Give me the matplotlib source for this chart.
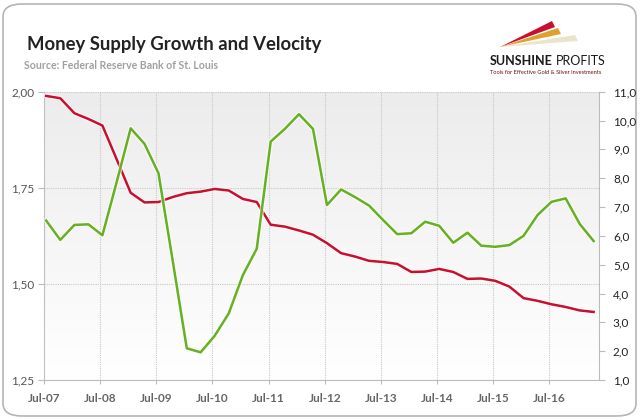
import matplotlib
matplotlib.use("Agg")
import matplotlib.pyplot as plt
import matplotlib.dates as mdates
import matplotlib.patheffects as pe
from matplotlib.patches import FancyBboxPatch, Polygon
import numpy as np
import pandas as pd

# quarterly observations, Q3 2007 .. Q2 2017
start = pd.Timestamp("2007-07-15")
dates = [start + pd.DateOffset(months=3 * i) for i in range(40)]

# M2 velocity (left axis)
velocity = [1.989, 1.983, 1.944, 1.929, 1.912, 1.825, 1.737, 1.712, 1.713, 1.726,
            1.736, 1.740, 1.747, 1.743, 1.721, 1.713, 1.654, 1.649, 1.639, 1.628,
            1.606, 1.580, 1.571, 1.560, 1.557, 1.552, 1.531, 1.532, 1.539, 1.531,
            1.513, 1.514, 1.508, 1.493, 1.463, 1.456, 1.447, 1.440, 1.431, 1.427]

# M2 growth, % y/y (right axis)
growth = [6.53, 5.86, 6.38, 6.40, 6.02, 7.85, 9.73, 9.19, 8.17, 5.15,
          2.10, 1.96, 2.53, 3.31, 4.64, 5.55, 9.27, 9.71, 10.22, 9.71,
          7.07, 7.61, 7.34, 7.05, 6.55, 6.06, 6.09, 6.49, 6.35, 5.76,
          6.11, 5.66, 5.62, 5.68, 6.00, 6.72, 7.18, 7.30, 6.41, 5.82]

left_ticks = [1.25, 1.50, 1.75, 2.00]
right_ticks = [1.0, 2.0, 3.0, 4.0, 5.0, 6.0, 7.0, 8.0, 9.0, 10.0, 11.0]
year_ticks = [pd.Timestamp(f"{y}-07-01") for y in range(2007, 2017)]

RED = "#C8102E"
GREEN = "#66B021"
GRAY = "#666666"
FONT = "Lato"

fig = plt.figure(figsize=(6.4, 4.2), dpi=100, facecolor="white")

# rounded frame
frame = FancyBboxPatch((3 / 640, 4 / 420), 633 / 640, 412 / 420,
                       boxstyle="round,pad=0,rounding_size=0.03",
                       transform=fig.transFigure, facecolor="none",
                       edgecolor="#b5b5b5", linewidth=1.2, zorder=-1)
fig.patches.append(frame)

ax = fig.add_axes([44 / 640, 1 - 380 / 420, 555 / 640, (380 - 91.7) / 420])
ax.set_facecolor("none")
ax2 = ax.twinx()

# gradient background
xlim = (mdates.date2num(pd.Timestamp("2007-07-01")), mdates.date2num(pd.Timestamp("2017-05-20")))
grad = np.linspace(0, 1, 256).reshape(-1, 1)
ax.imshow(grad, cmap=matplotlib.colors.LinearSegmentedColormap.from_list("g", ["#ececec", "#ffffff"]),
          extent=(xlim[0], xlim[1], 1.25, 2.00), aspect="auto", zorder=0, origin="upper")

halo = [pe.Stroke(linewidth=3.4, foreground="white", alpha=0.7), pe.Normal()]
ax.plot(dates, velocity, color=RED, linewidth=1.8, zorder=3, path_effects=halo)
ax2.plot(dates, growth, color=GREEN, linewidth=1.8, zorder=3, path_effects=halo)

ax.set_xlim(*xlim)
ax.set_ylim(1.25, 2.00)
ax2.set_ylim(1.0, 11.0)

ax.set_xticks(year_ticks)
ax.xaxis.set_major_formatter(mdates.DateFormatter("%b-%y"))
ax.set_yticks(left_ticks)
ax.set_yticklabels([f"{v:.2f}".replace(".", ",") for v in left_ticks])
ax2.set_yticks(right_ticks)
ax2.set_yticklabels([f"{v:.1f}".replace(".", ",") for v in right_ticks])

ax.grid(True, color="#c8c8c8", linestyle=(0, (1, 1)), linewidth=0.8)
ax.set_axisbelow(False)
for a in (ax, ax2):
    a.spines["top"].set_visible(False)
ax2.spines["left"].set_visible(False)
ax2.spines["bottom"].set_visible(False)
for sp in ["left", "bottom"]:
    ax.spines[sp].set_color("#bbbbbb")
ax.spines["right"].set_visible(False)
ax2.spines["right"].set_color("#bbbbbb")

ax.tick_params(axis="y", colors="#bbbbbb", labelcolor="#555555", labelsize=8.5, length=4, pad=3)
ax.tick_params(axis="x", colors="#bbbbbb", labelcolor=GRAY, labelsize=8.5, length=3, pad=6)
ax2.tick_params(axis="y", colors="#bbbbbb", labelcolor="#222222", labelsize=8.5, length=4, pad=6)
for lab in ax.get_xticklabels() + ax.get_yticklabels() + ax2.get_yticklabels():
    lab.set_fontfamily(FONT)
for lab in ax.get_xticklabels():
    lab.set_fontweight("bold")

# titles
fig.text(27 / 640, 1 - 50 / 420, "Money Supply Growth and Velocity", fontsize=13.3,
         fontweight="bold", color="#222222", family=FONT)
fig.text(24 / 640, 1 - 69 / 420, "Source: Federal Reserve Bank of St. Louis", fontsize=7.6,
         fontweight="bold", color="#a0a0a0", family=FONT)

# logo
px = lambda x, y: (x / 640, 1 - y / 420)
for pts, col in [([(500, 47), (552, 21), (555, 27)], "#c8102e"),
                 ([(500, 47), (558, 28), (561, 34)], "#e0a030"),
                 ([(500, 47), (575, 35), (578, 41)], "#ebe4cc")]:
    fig.patches.append(Polygon([px(*p) for p in pts], closed=True, transform=fig.transFigure,
                               facecolor=col, edgecolor="none", zorder=2))
fig.text(490 / 640, 1 - 65 / 420, "SUNSHINE", fontsize=9, fontweight="bold",
         color="#1a1a1a", family=FONT)
fig.text(556 / 640, 1 - 65 / 420, "PROFITS", fontsize=9, color="#1a1a1a", family=FONT)
fig.text(490 / 640, 1 - 73.5 / 420, "Tools for Effective Gold & Silver Investments", fontsize=4.1,
         color="#6a1010", family=FONT)

fig.savefig("out.png", dpi=100, facecolor="white")
